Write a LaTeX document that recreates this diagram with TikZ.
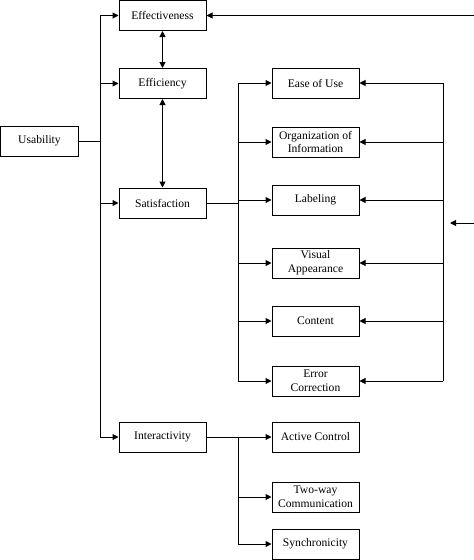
\documentclass[tikz,border=0pt]{standalone}
\usepackage{fontspec}
\setmainfont{Liberation Serif}
\usetikzlibrary{arrows.meta}

\begin{document}
\begin{tikzpicture}[x=1pt,y=-1pt,
  box/.style={draw,line width=1pt,minimum width=87pt,minimum height=30pt,inner sep=1pt,align=center,font=\fontsize{11.6}{13.8}\selectfont},
  link/.style={line width=1pt},
  arr/.style={link,-{Triangle[length=6pt,width=6pt]}},
  darr/.style={link,{Triangle[length=6pt,width=6pt]}-{Triangle[length=6pt,width=6pt]}}]
\useasboundingbox (0,0) rectangle (474,560);

% 左侧:Usability 与四个维度
\node[box,minimum width=78pt] (usab) at (39.5,141) {Usability};
\node[box] (effect) at (162.5,15.5) {Effectiveness};
\node[box] (effic) at (162.5,83.5) {Efficiency};
\node[box] (satis) at (162.5,203) {Satisfaction};
\node[box] (inter) at (162.5,437) {Interactivity};

% 中间:Satisfaction 的子项
\node[box] (ease) at (315.5,83) {Ease of Use};
\node[box] (organ) at (315.5,142) {Organization of\\Information};
\node[box] (label) at (315.5,200) {Labeling};
\node[box] (visual) at (315.5,263) {Visual\\Appearance};
\node[box] (content) at (315.5,321) {Content};
\node[box] (error) at (315.5,381) {Error\\Correction};

% 下方:Interactivity 的子项
\node[box] (active) at (315.5,437) {Active Control};
\node[box] (twoway) at (315.5,497) {Two-way\\Communication};
\node[box] (sync) at (315.5,544) {Synchronicity};

\coordinate (spineA) at (100,0);
\coordinate (spineB) at (238,0);
\coordinate (spineC) at (443,0);
\coordinate (rim) at (474,0);
\coordinate (extin) at (474,223);
\coordinate (extout) at (450,223);

% 左侧连线
\draw[link] (usab.east) -- (usab.east -| spineA);
\draw[link] (effect.west -| spineA) -- (inter.west -| spineA);
\foreach \n in {effect,effic,satis,inter}
  \draw[arr] (\n.west -| spineA) -- (\n.west);
\draw[darr] (effect.south) -- (effic.north);
\draw[darr] (effic.south) -- (satis.north);
\draw[arr] (effect.east -| rim) -- (effect.east);

% Satisfaction 连线
\draw[link] (satis.east) -- (satis.east -| spineB);
\draw[link] (ease.west -| spineB) -- (error.west -| spineB);
\draw[link] (ease.east -| spineC) -- (error.east -| spineC);
\foreach \n in {ease,organ,label,visual,content,error} {
  \draw[arr] (\n.west -| spineB) -- (\n.west);
  \draw[arr] (\n.east -| spineC) -- (\n.east);
}
\draw[arr] (extin) -- (extout);

% Interactivity 连线
\draw[link] (inter.east) -- (inter.east -| spineB) -- (sync.west -| spineB);
\foreach \n in {active,twoway,sync}
  \draw[arr] (\n.west -| spineB) -- (\n.west);
\end{tikzpicture}
\end{document}
